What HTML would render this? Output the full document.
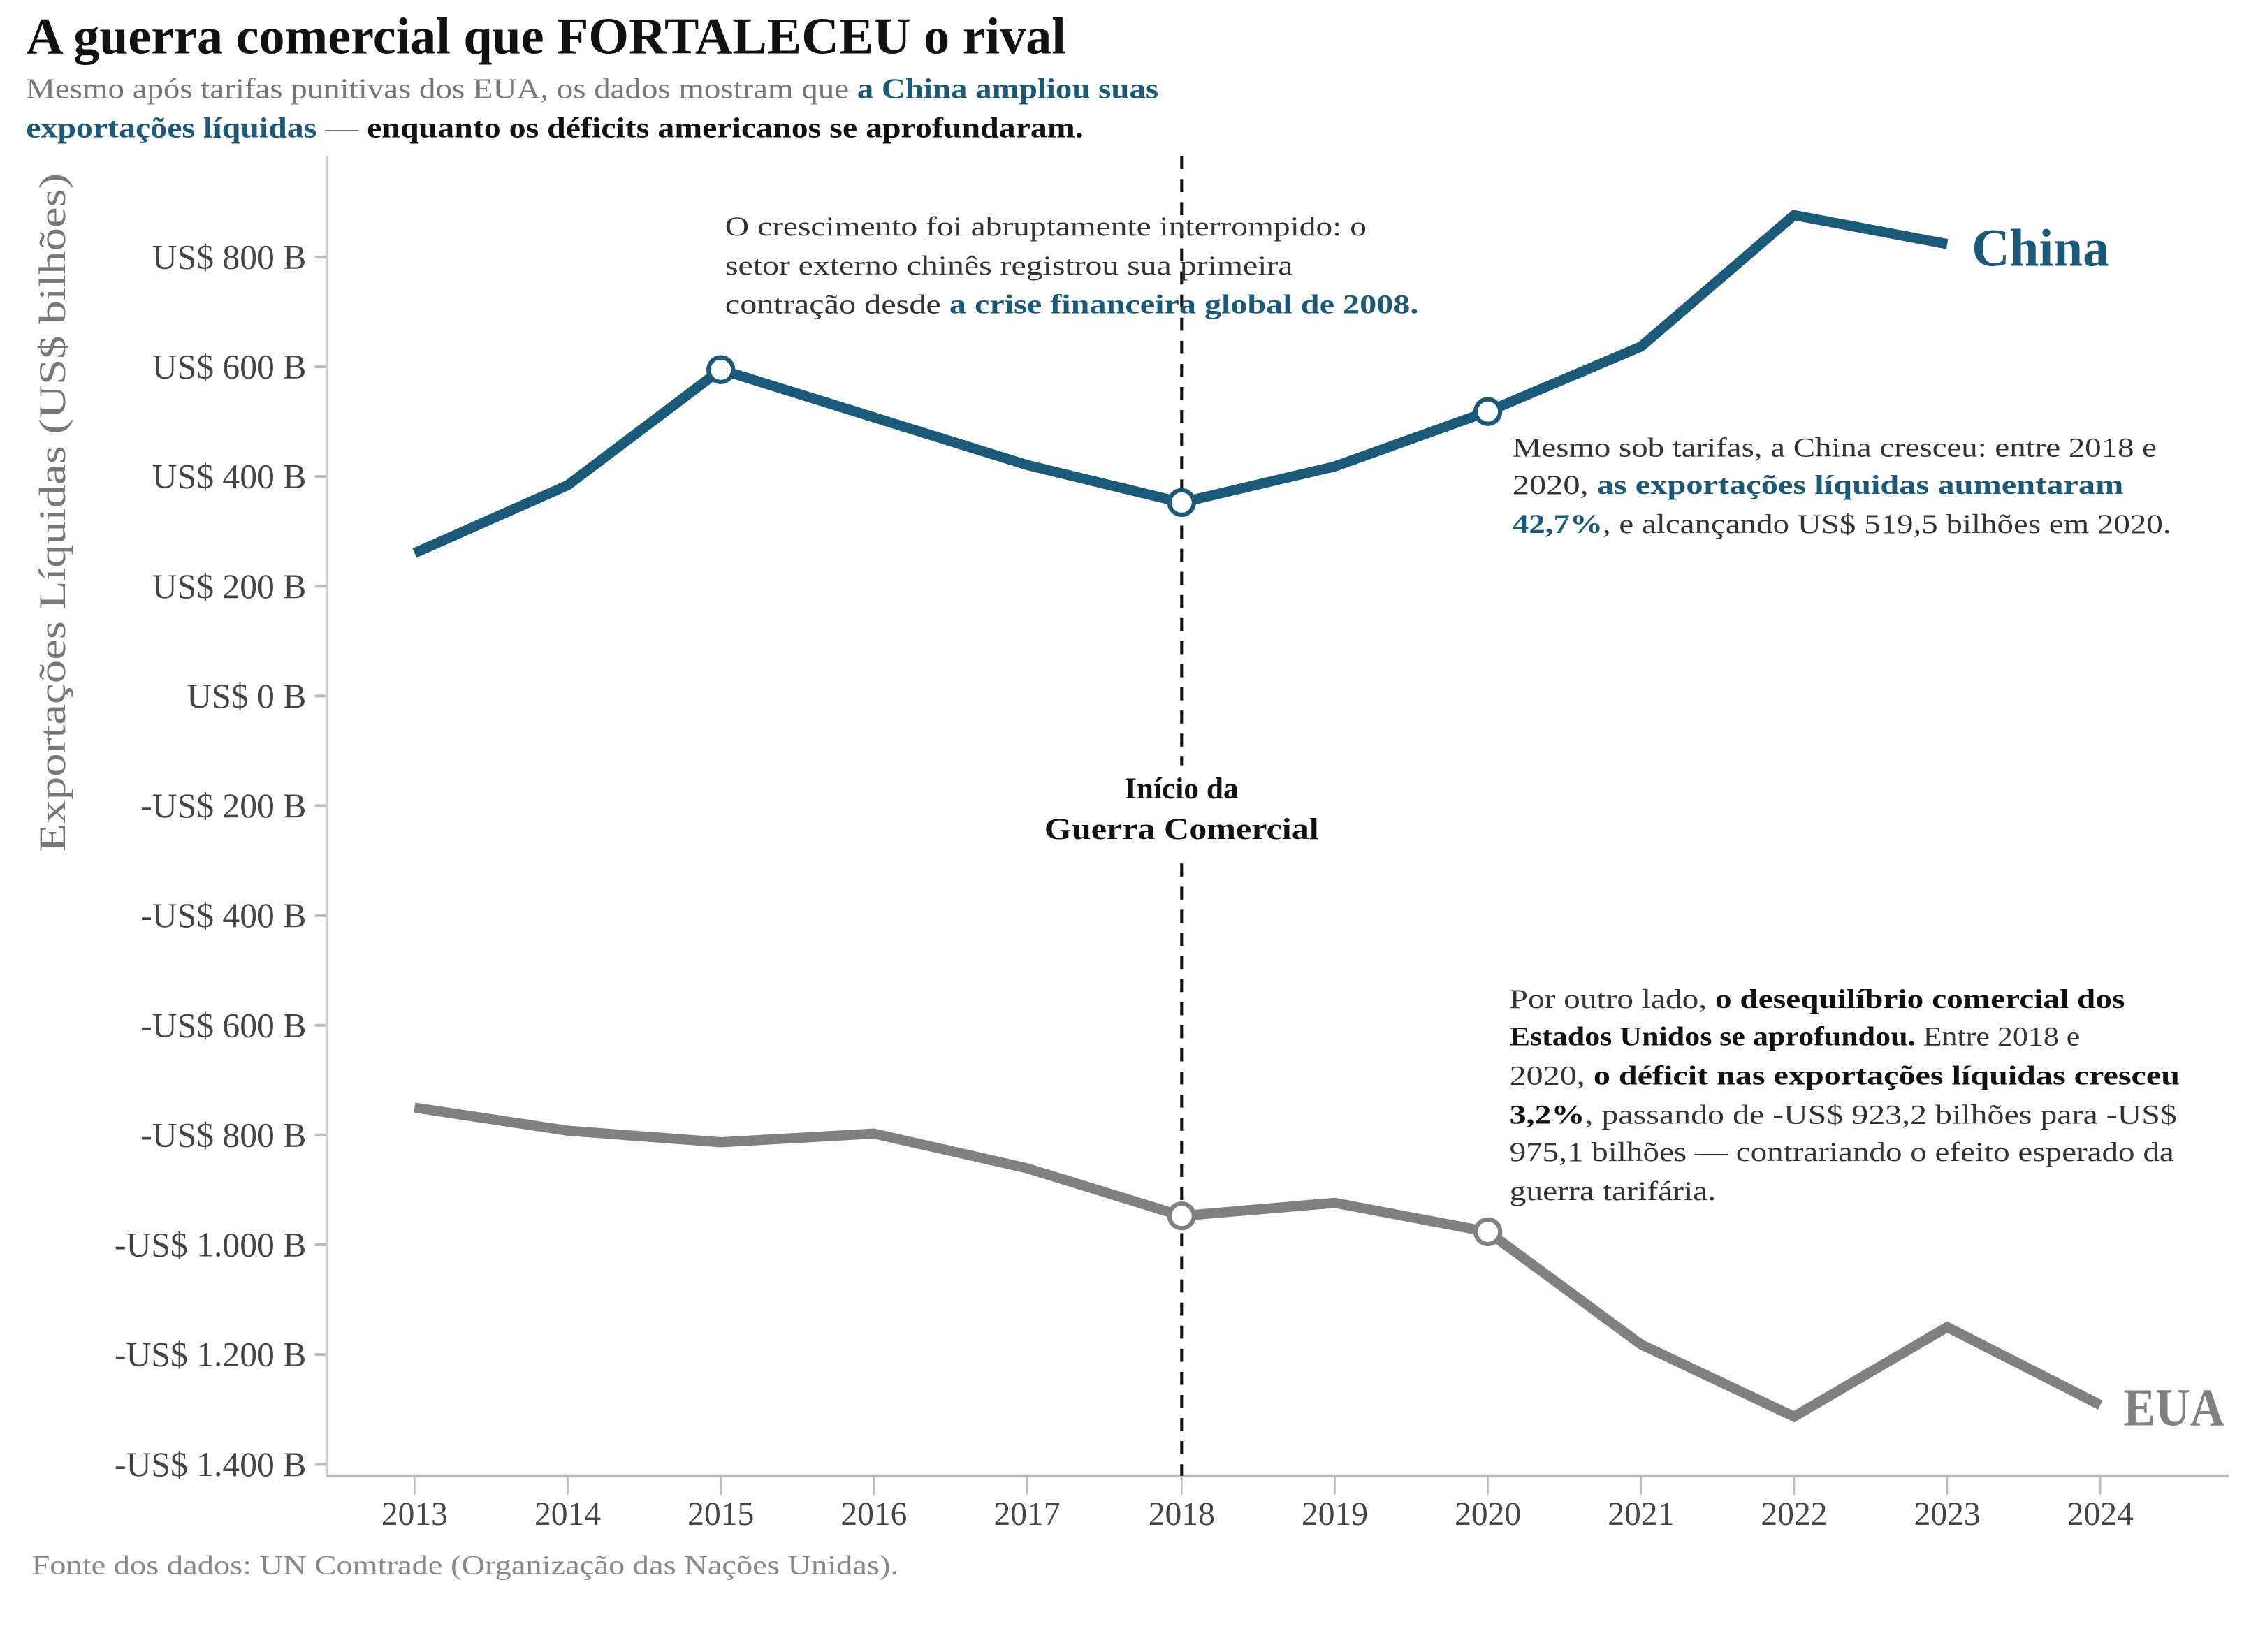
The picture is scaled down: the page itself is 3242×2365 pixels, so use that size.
<!DOCTYPE html>
<html><head><meta charset="utf-8"><style>
html,body{margin:0;padding:0;background:#fff;}
svg{display:block;}
text{font-family:"Liberation Serif",serif;}
</style></head><body>
<svg width="3242" height="2365" viewBox="0 0 1568 1144" preserveAspectRatio="none" xmlns="http://www.w3.org/2000/svg">
<text x="18" y="37" font-size="36" font-weight="bold" fill="#111" textLength="720" lengthAdjust="spacingAndGlyphs">A guerra comercial que FORTALECEU o rival</text>
<text x="18" y="68" font-size="20" fill="#777" textLength="784" lengthAdjust="spacingAndGlyphs">Mesmo após tarifas punitivas dos EUA, os dados mostram que <tspan fill="#1a5977" font-weight="bold">a China ampliou suas</tspan></text>
<text x="18" y="95" font-size="20" fill="#777" textLength="732" lengthAdjust="spacingAndGlyphs"><tspan fill="#1a5977" font-weight="bold">exportações líquidas</tspan> — <tspan fill="#111" font-weight="bold">enquanto os déficits americanos se aprofundaram.</tspan></text>

<line x1="226" y1="108" x2="226" y2="1022" stroke="#ccc" stroke-width="1.5"/>
<line x1="226" y1="1022" x2="1543" y2="1022" stroke="#bbb" stroke-width="2"/>
<g stroke="#bbb" stroke-width="2">
<line x1="218" y1="178" x2="226" y2="178"/><line x1="218" y1="254" x2="226" y2="254"/><line x1="218" y1="330" x2="226" y2="330"/><line x1="218" y1="406" x2="226" y2="406"/><line x1="218" y1="482" x2="226" y2="482"/><line x1="218" y1="558" x2="226" y2="558"/><line x1="218" y1="634" x2="226" y2="634"/><line x1="218" y1="710" x2="226" y2="710"/><line x1="218" y1="786" x2="226" y2="786"/><line x1="218" y1="862" x2="226" y2="862"/><line x1="218" y1="938" x2="226" y2="938"/><line x1="218" y1="1014" x2="226" y2="1014"/>
</g>
<g font-size="24" fill="#444" text-anchor="end">
<text x="212" y="186">US$ 800 B</text><text x="212" y="262">US$ 600 B</text><text x="212" y="338">US$ 400 B</text><text x="212" y="414">US$ 200 B</text><text x="212" y="490">US$ 0 B</text><text x="212" y="566">-US$ 200 B</text><text x="212" y="642">-US$ 400 B</text><text x="212" y="718">-US$ 600 B</text><text x="212" y="794">-US$ 800 B</text><text x="212" y="870">-US$ 1.000 B</text><text x="212" y="946">-US$ 1.200 B</text><text x="212" y="1022">-US$ 1.400 B</text>
</g>
<g stroke="#bbb" stroke-width="1.2">
<line x1="287" y1="1022" x2="287" y2="1035"/><line x1="393" y1="1022" x2="393" y2="1035"/><line x1="499" y1="1022" x2="499" y2="1035"/><line x1="605" y1="1022" x2="605" y2="1035"/><line x1="711" y1="1022" x2="711" y2="1035"/><line x1="818" y1="1022" x2="818" y2="1035"/><line x1="924" y1="1022" x2="924" y2="1035"/><line x1="1030" y1="1022" x2="1030" y2="1035"/><line x1="1136" y1="1022" x2="1136" y2="1035"/><line x1="1242" y1="1022" x2="1242" y2="1035"/><line x1="1348" y1="1022" x2="1348" y2="1035"/><line x1="1454" y1="1022" x2="1454" y2="1035"/>
</g>
<g font-size="23" fill="#444" text-anchor="middle">
<text x="287" y="1056">2013</text><text x="393" y="1056">2014</text><text x="499" y="1056">2015</text><text x="605" y="1056">2016</text><text x="711" y="1056">2017</text><text x="818" y="1056">2018</text><text x="924" y="1056">2019</text><text x="1030" y="1056">2020</text><text x="1136" y="1056">2021</text><text x="1242" y="1056">2022</text><text x="1348" y="1056">2023</text><text x="1454" y="1056">2024</text>
</g>
<text transform="translate(45,355) rotate(-90)" font-size="26" fill="#777" text-anchor="middle" textLength="470" lengthAdjust="spacingAndGlyphs">Exportações Líquidas (US$ bilhões)</text>

<line x1="818" y1="108" x2="818" y2="530" stroke="#111" stroke-width="2" stroke-dasharray="9,7"/>
<line x1="818" y1="598" x2="818" y2="1022" stroke="#111" stroke-width="2" stroke-dasharray="9,7"/>
<text x="818" y="553" font-size="21" font-weight="bold" fill="#111" text-anchor="middle">Início da</text>
<text x="818" y="581" font-size="21" font-weight="bold" fill="#111" text-anchor="middle" textLength="190" lengthAdjust="spacingAndGlyphs">Guerra Comercial</text>

<polyline fill="none" stroke="#1a5977" stroke-width="7" points="287,383 393,336 499,256 605,289 711,322 818,348 924,323 1030,285 1136,240 1242,149 1348,169"/>
<polyline fill="none" stroke="#808080" stroke-width="7" points="287,767 393,783 499,791 605,785 711,809 818,842 924,833 1030,853 1136,931 1242,981 1348,919 1454,973"/>
<g fill="#fff" stroke-width="3">
<circle cx="499" cy="256" r="8.5" stroke="#1a5977"/>
<circle cx="818" cy="348" r="8.5" stroke="#1a5977"/>
<circle cx="1030" cy="285" r="8.5" stroke="#1a5977"/>
<circle cx="818" cy="842" r="8.5" stroke="#808080"/>
<circle cx="1030" cy="853" r="8.5" stroke="#808080"/>
</g>
<text x="1365" y="184" font-size="37" font-weight="bold" fill="#1a5977" textLength="95" lengthAdjust="spacingAndGlyphs">China</text>
<text x="1470" y="987" font-size="37" font-weight="bold" fill="#808080" textLength="70" lengthAdjust="spacingAndGlyphs">EUA</text>

<g font-size="19" fill="#333">
<text x="502" y="163" textLength="444" lengthAdjust="spacingAndGlyphs">O crescimento foi abruptamente interrompido: o</text>
<text x="502" y="190" textLength="393" lengthAdjust="spacingAndGlyphs">setor externo chinês registrou sua primeira</text>
<text x="502" y="217" textLength="480" lengthAdjust="spacingAndGlyphs">contração desde <tspan fill="#1a5977" font-weight="bold">a crise financeira global de 2008.</tspan></text>

<text x="1047" y="316" textLength="446" lengthAdjust="spacingAndGlyphs">Mesmo sob tarifas, a China cresceu: entre 2018 e</text>
<text x="1047" y="342" textLength="423" lengthAdjust="spacingAndGlyphs">2020, <tspan fill="#1a5977" font-weight="bold">as exportações líquidas aumentaram</tspan></text>
<text x="1047" y="369" textLength="456" lengthAdjust="spacingAndGlyphs"><tspan fill="#1a5977" font-weight="bold">42,7%</tspan>, e alcançando US$ 519,5 bilhões em 2020.</text>

<text x="1045" y="698" textLength="426" lengthAdjust="spacingAndGlyphs">Por outro lado, <tspan fill="#111" font-weight="bold">o desequilíbrio comercial dos</tspan></text>
<text x="1045" y="724" textLength="395" lengthAdjust="spacingAndGlyphs"><tspan fill="#111" font-weight="bold">Estados Unidos se aprofundou.</tspan> Entre 2018 e</text>
<text x="1045" y="751" textLength="464" lengthAdjust="spacingAndGlyphs">2020, <tspan fill="#111" font-weight="bold">o déficit nas exportações líquidas cresceu</tspan></text>
<text x="1045" y="778" textLength="462" lengthAdjust="spacingAndGlyphs"><tspan fill="#111" font-weight="bold">3,2%</tspan>, passando de -US$ 923,2 bilhões para -US$</text>
<text x="1045" y="804" textLength="460" lengthAdjust="spacingAndGlyphs">975,1 bilhões — contrariando o efeito esperado da</text>
<text x="1045" y="831" textLength="143" lengthAdjust="spacingAndGlyphs">guerra tarifária.</text>
</g>

<text x="22" y="1090" font-size="19" fill="#888" textLength="600" lengthAdjust="spacingAndGlyphs">Fonte dos dados: UN Comtrade (Organização das Nações Unidas).</text>
</svg>
</body></html>
